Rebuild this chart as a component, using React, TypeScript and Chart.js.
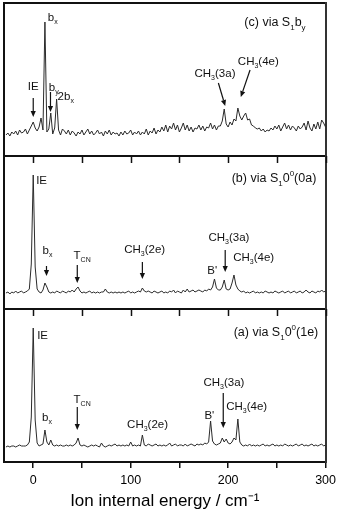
import { useEffect, useRef } from "react";
import { Chart, registerables } from "chart.js";

Chart.register(...registerables);

// Ion internal energy grid (cm^-1)
const energies = [
  -28, -26, -24, -22, -20, -18, -16, -14, -12, -10,
  -8, -6, -4, -2, 0, 2, 4, 6, 8, 10,
  12, 14, 16, 18, 20, 22, 24, 26, 28, 30,
  32, 34, 36, 38, 40, 42, 44, 46, 48, 50,
  52, 54, 56, 58, 60, 62, 64, 66, 68, 70,
  72, 74, 76, 78, 80, 82, 84, 86, 88, 90,
  92, 94, 96, 98, 100, 102, 104, 106, 108, 110,
  112, 114, 116, 118, 120, 122, 124, 126, 128, 130,
  132, 134, 136, 138, 140, 142, 144, 146, 148, 150,
  152, 154, 156, 158, 160, 162, 164, 166, 168, 170,
  172, 174, 176, 178, 180, 182, 184, 186, 188, 190,
  192, 194, 196, 198, 200, 202, 204, 206, 208, 210,
  212, 214, 216, 218, 220, 222, 224, 226, 228, 230,
  232, 234, 236, 238, 240, 242, 244, 246, 248, 250,
  252, 254, 256, 258, 260, 262, 264, 266, 268, 270,
  272, 274, 276, 278, 280, 282, 284, 286, 288, 290,
  292, 294, 296, 298, 300,
];

// (c) via S1 by
const signalC = [
  21, 23, 20, 24, 22, 25, 21, 26, 23, 24,
  27, 22, 26, 30, 34, 28, 25, 29, 38, 26,
  134, 24, 27, 43, 22, 28, 57, 26, 21, 27,
  25, 22, 26, 21, 25, 23, 20, 24, 22, 26,
  21, 24, 27, 22, 25, 21, 23, 26, 22, 24,
  20, 25, 22, 26, 21, 24, 22, 23, 20, 24,
  21, 25, 22, 23, 26, 21, 24, 22, 25, 21,
  24, 22, 27, 21, 25, 23, 28, 22, 26, 24,
  29, 25, 31, 24, 30, 27, 33, 26, 31, 24,
  28, 33, 26, 31, 25, 29, 24, 28, 27, 31,
  26, 30, 25, 29, 28, 33, 27, 31, 26, 30,
  30, 35, 47, 32, 29, 34, 31, 37, 35, 48,
  40, 36, 40, 43, 36, 37, 31, 30, 28, 27,
  28, 25, 27, 24, 26, 25, 28, 26, 30, 27,
  31, 25, 29, 33, 27, 31, 26, 30, 28, 25,
  30, 27, 29, 33, 26, 35, 28, 25, 32, 27,
  34, 27, 36, 33, 29,
];

// (b) via S1 0^0 (0a)
const signalB = [
  16, 17, 15, 17, 16, 18, 16, 17, 18, 16,
  17, 18, 20, 45, 134, 42, 20, 17, 16, 19,
  26, 22, 17, 16, 17, 16, 18, 17, 16, 18,
  17, 16, 18, 17, 19, 17, 20, 22, 18, 16,
  17, 16, 17, 18, 16, 17, 16, 17, 16, 17,
  17, 20, 17, 16, 17, 16, 17, 16, 17, 16,
  17, 16, 17, 18, 16, 17, 16, 17, 18, 17,
  21, 18, 17, 18, 17, 16, 18, 17, 16, 17,
  18, 16, 17, 16, 18, 17, 19, 16, 18, 17,
  16, 19, 17, 20, 17, 18, 19, 17, 18, 19,
  18, 17, 19, 18, 20, 19, 22, 30, 21, 19,
  19, 22, 29, 20, 19, 20, 26, 34, 24, 20,
  18, 17, 18, 16, 17, 16, 17, 18, 16, 17,
  16, 17, 16, 18, 17, 16, 17, 16, 18, 17,
  16, 17, 18, 16, 17, 18, 16, 17, 18, 16,
  17, 18, 16, 17, 19, 17, 16, 18, 17, 16,
  18, 17, 19, 17, 18,
];

// (a) via S1 0^0 (1e)
const signalA = [
  15, 16, 15, 16, 16, 15, 16, 17, 16, 16,
  16, 17, 20, 45, 134, 42, 19, 16, 17, 18,
  32, 20, 17, 22, 17, 16, 17, 16, 17, 16,
  16, 17, 16, 17, 16, 17, 19, 24, 17, 16,
  17, 16, 15, 16, 17, 16, 17, 16, 15, 19,
  16, 15, 16, 17, 16, 17, 18, 16, 17, 16,
  17, 16, 17, 16, 20, 16, 17, 16, 17, 16,
  27, 17, 16, 18, 17, 16, 17, 18, 16, 17,
  16, 17, 16, 17, 19, 16, 17, 18, 16, 17,
  17, 16, 18, 16, 17, 18, 17, 16, 18, 17,
  18, 17, 19, 18, 20, 41, 21, 18, 17, 18,
  19, 24, 20, 23, 19, 18, 20, 24, 22, 43,
  20, 17, 16, 17, 16, 18, 16, 17, 16, 17,
  16, 17, 18, 16, 17, 16, 17, 18, 16, 17,
  16, 17, 16, 18, 17, 16, 17, 16, 17, 18,
  16, 17, 18, 16, 17, 16, 17, 18, 16, 17,
  16, 17, 18, 16, 17,
];

const tickValues = [0, 50, 100, 150, 200, 250, 300];
const labeledTicks = [0, 100, 200, 300];
const axisTitle = "Ion internal energy / cm\u207B\u00B9";

// panel titles: [panel, text, x, y]
const panelTitles: [string, string, number, number][] = [
  ["yc", "(c) via S_1b_y", 279.5, 133],
  ["yb", "(b) via S_10^0(0a)", 290.5, 130],
  ["ya", "(a) via S_10^0(1e)", 292.5, 129],
];

// peak labels: [panel, text, x (left), y (middle)]
const peakLabels: [string, string, number, number][] = [
  ["yc", "b_x", 15, 138],
  ["yc", "IE", -5.5, 69],
  ["yc", "b_y", 16, 68],
  ["yc", "2b_x", 25, 59],
  ["yc", "CH_3(3a)", 165.5, 82],
  ["yc", "CH_3(4e)", 210, 94],
  ["yb", "IE", 3, 128],
  ["yb", "b_x", 9.5, 58],
  ["yb", "T_{CN}", 41.4, 53],
  ["yb", "CH_3(2e)", 93.3, 59],
  ["yb", "B'", 178.7, 38],
  ["yb", "CH_3(3a)", 179.8, 71],
  ["yb", "CH_3(4e)", 205.2, 51],
  ["ya", "IE", 4, 126],
  ["ya", "b_x", 9, 44],
  ["ya", "T_{CN}", 41.4, 62],
  ["ya", "CH_3(2e)", 96.3, 37],
  ["ya", "B'", 175.7, 46],
  ["ya", "CH_3(3a)", 174.7, 79],
  ["ya", "CH_3(4e)", 198, 55],
];

// arrows: [panel, x1, y1, x2, y2]
const arrows: [string, number, number, number, number][] = [
  ["yc", 0, 58, 0, 39],
  ["yc", 17.7, 64, 17.7, 44],
  ["yc", 190, 73, 197, 50],
  ["yc", 222.5, 86, 213, 59],
  ["yb", 13.6, 43, 13.6, 33],
  ["yb", 45.2, 44, 45.2, 26],
  ["yb", 112, 47, 112, 30],
  ["yb", 197, 59, 197, 37],
  ["ya", 45.2, 55, 45.2, 32],
  ["ya", 195, 69, 195, 34],
];

const FONT = "'Liberation Sans', Arial, Helvetica, sans-serif";
const INK = "#111";

type Seg = { t: string; k: "n" | "sub" | "sup" };

function parseRich(text: string): Seg[] {
  const segs: Seg[] = [];
  let buf = "";
  let i = 0;
  while (i < text.length) {
    const c = text[i];
    if (c === "_" || c === "^") {
      if (buf) segs.push({ t: buf, k: "n" });
      buf = "";
      let inner = "";
      if (text[i + 1] === "{") {
        const end = text.indexOf("}", i + 2);
        inner = text.slice(i + 2, end);
        i = end + 1;
      } else {
        inner = text[i + 1];
        i += 2;
      }
      segs.push({ t: inner, k: c === "_" ? "sub" : "sup" });
    } else {
      buf += c;
      i++;
    }
  }
  if (buf) segs.push({ t: buf, k: "n" });
  return segs;
}

function drawRich(
  ctx: CanvasRenderingContext2D,
  text: string,
  x: number,
  y: number,
  align: "left" | "right",
  size: number
) {
  const segs = parseRich(text);
  const small = Math.round(size * 0.62);
  const widths: number[] = [];
  let total = 0;
  for (const s of segs) {
    ctx.font = `${s.k === "n" ? size : small}px ${FONT}`;
    const w = ctx.measureText(s.t).width;
    widths.push(w);
    total += w;
  }
  let cx = align === "right" ? x - total : x;
  ctx.textAlign = "left";
  ctx.textBaseline = "middle";
  segs.forEach((s, idx) => {
    ctx.font = `${s.k === "n" ? size : small}px ${FONT}`;
    const dy = s.k === "sub" ? size * 0.38 : s.k === "sup" ? -size * 0.38 : 0;
    ctx.fillText(s.t, cx, y + dy);
    cx += widths[idx];
  });
}

const annotationPlugin = {
  id: "spectrumAnnotations",
  afterDraw(chart: any) {
    const ctx: CanvasRenderingContext2D = chart.ctx;
    const xs = chart.scales.x;
    ctx.save();
    // inner tick marks on panel boundaries
    ctx.strokeStyle = INK;
    ctx.lineWidth = 1.5;
    for (const id of ["yb", "ya"]) {
      const s = chart.scales[id];
      for (const v of tickValues) {
        const px = Math.round(xs.getPixelForValue(v)) + 0.5;
        ctx.beginPath();
        ctx.moveTo(px, s.top);
        ctx.lineTo(px, s.top + 7);
        ctx.stroke();
      }
    }
    // arrows
    ctx.fillStyle = INK;
    ctx.lineWidth = 1.2;
    for (const [id, x1, y1, x2, y2] of arrows) {
      const ys = chart.scales[id];
      const p1x = xs.getPixelForValue(x1);
      const p1y = ys.getPixelForValue(y1);
      const p2x = xs.getPixelForValue(x2);
      const p2y = ys.getPixelForValue(y2);
      const ang = Math.atan2(p2y - p1y, p2x - p1x);
      const hl = 6;
      const hw = 2.6;
      const bx = p2x - hl * Math.cos(ang);
      const by = p2y - hl * Math.sin(ang);
      ctx.beginPath();
      ctx.moveTo(p1x, p1y);
      ctx.lineTo(bx, by);
      ctx.stroke();
      ctx.beginPath();
      ctx.moveTo(p2x, p2y);
      ctx.lineTo(bx + hw * Math.sin(ang), by - hw * Math.cos(ang));
      ctx.lineTo(bx - hw * Math.sin(ang), by + hw * Math.cos(ang));
      ctx.closePath();
      ctx.fill();
    }
    // labels
    for (const [id, text, x, y] of peakLabels) {
      const ys = chart.scales[id];
      drawRich(ctx, text, xs.getPixelForValue(x), ys.getPixelForValue(y), "left", 11.5);
    }
    for (const [id, text, x, y] of panelTitles) {
      const ys = chart.scales[id];
      drawRich(ctx, text, xs.getPixelForValue(x), ys.getPixelForValue(y), "right", 12.5);
    }
    ctx.restore();
  },
};

function panelAxis() {
  return {
    type: "linear" as const,
    position: "left" as const,
    stack: "panels",
    stackWeight: 1,
    min: 0,
    max: 153,
    afterBuildTicks: (s: any) => {
      s.ticks = [{ value: 0 }, { value: 153 }];
    },
    afterFit: (s: any) => {
      s.width = 0;
    },
    ticks: { display: false },
    grid: {
      display: true,
      drawOnChartArea: true,
      drawTicks: false,
      color: INK,
      lineWidth: 2,
    },
    border: { display: true, color: INK, width: 2 },
  };
}

export default function App() {
  const ref = useRef<HTMLCanvasElement | null>(null);

  useEffect(() => {
    if (!ref.current) return;
    const mk = (vals: number[]) => energies.map((e, i) => ({ x: e, y: vals[i] }));
    const line = (vals: number[], axis: string) => ({
      data: mk(vals),
      yAxisID: axis,
      borderColor: "#2b2b2b",
      borderWidth: 1,
      pointRadius: 0,
      tension: 0,
      fill: false,
    });
    const chart = new Chart(ref.current, {
      type: "line",
      data: {
        datasets: [line(signalA, "ya"), line(signalB, "yb"), line(signalC, "yc")],
      },
      options: {
        animation: false,
        responsive: false,
        maintainAspectRatio: false,
        layout: { padding: { left: 4, right: 13, top: 3, bottom: 0 } },
        plugins: { legend: { display: false }, tooltip: { enabled: false } },
        scales: {
          x: {
            type: "linear",
            position: "bottom",
            min: -30,
            max: 300,
            afterBuildTicks: (s: any) => {
              s.ticks = tickValues.map((v) => ({ value: v }));
            },
            afterFit: (s: any) => {
              s.height = 53;
            },
            ticks: {
              autoSkip: false,
              maxRotation: 0,
              padding: 5,
              color: "#000",
              font: { family: FONT, size: 12.5 },
              callback: (v: any) => (labeledTicks.includes(Number(v)) ? String(v) : ""),
            },
            grid: {
              display: true,
              drawOnChartArea: false,
              drawTicks: true,
              tickLength: 6,
              color: INK,
              lineWidth: 1.5,
            },
            border: { display: true, color: INK, width: 2 },
            title: {
              display: true,
              text: axisTitle,
              color: "#000",
              font: { family: FONT, size: 17 },
              padding: { top: 0, bottom: 3 },
            },
          },
          ya: panelAxis(),
          yb: panelAxis(),
          yc: panelAxis(),
          yr: {
            type: "linear",
            position: "right",
            min: 0,
            max: 1,
            afterFit: (s: any) => {
              s.width = 0;
            },
            ticks: { display: false },
            grid: { display: false },
            border: { display: true, color: "#333", width: 2 },
          },
        },
      } as any,
      plugins: [annotationPlugin],
    });
    return () => chart.destroy();
  }, []);

  return (
    <div style={{ position: "absolute", left: 0, top: 0, width: 341, height: 515, background: "#fff" }}>
      <canvas ref={ref} width={341} height={515} style={{ display: "block" }} />
    </div>
  );
}
